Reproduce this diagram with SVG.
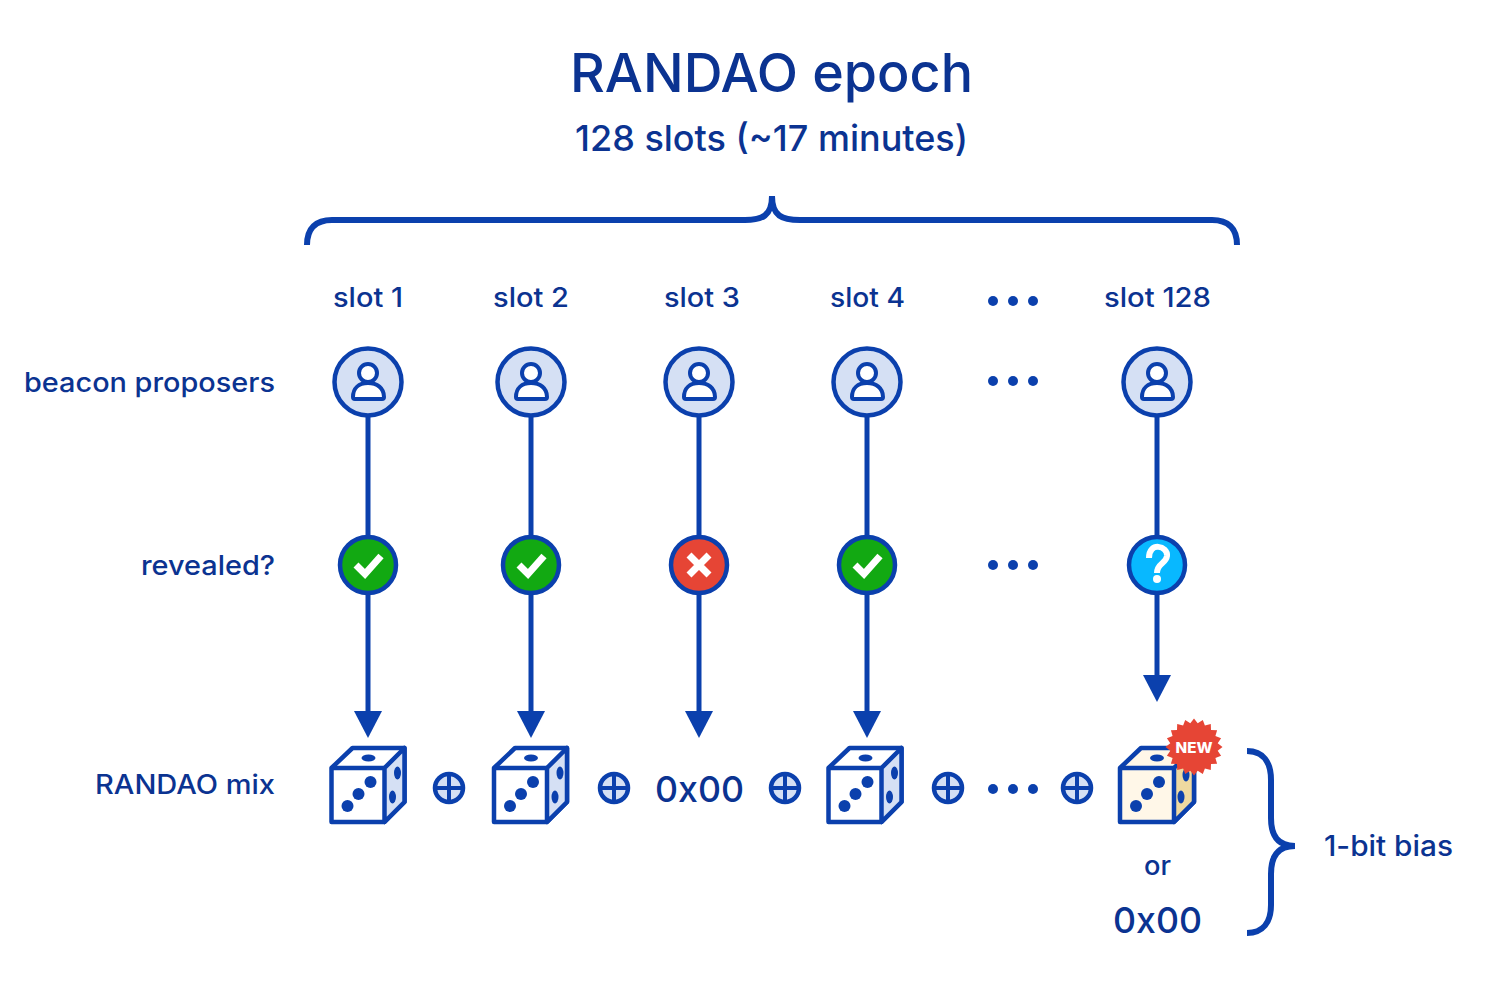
<svg xmlns="http://www.w3.org/2000/svg" width="1487" height="1008" viewBox="0 0 1487 1008">
<style>
text{font-family:"Inter","Liberation Sans",sans-serif;font-weight:550;fill:#0b3391;text-anchor:middle}
.lab{font-size:27px;text-anchor:end}
.slot{font-size:27px}
.ln{stroke:#0b40ad;fill:none;stroke-width:6}
.ring{stroke:#0b40ad;stroke-width:4.500;fill:#d5e0f4}
.person{stroke:#0b40ad;stroke-width:4;fill:#fff}
.stat{stroke:#0b40ad;stroke-width:4.500}
.pip{fill:#0b40ad}
.mark{stroke:#fff;stroke-width:7;fill:none}
.edge{stroke:#0b40ad;stroke-width:4.500;stroke-linejoin:round;fill:none}
.conn{stroke:#0b40ad;stroke-width:5;fill:none}
</style>
<defs>
<marker id="ah" markerUnits="userSpaceOnUse" markerWidth="30" markerHeight="30" refX="0" refY="15" orient="auto" viewBox="0 0 30 30"><polygon points="0,1 27,15 0,29" fill="#0b40ad"/></marker>
<g id="proposer"><circle class="ring" r="33.500"/><circle class="person" cy="-9" r="9"/><path class="person" d="M-13,17H14Q16,17 16,15C16,6 9,1 0,1C-9,1 -15,6 -15,15Q-15,17 -13,17Z"/></g>
<g id="dice"><path class="edge" style="fill:#fff" d="M-37,-20L-16,-40H36V14L16,34H-37Z"/><path class="edge" style="fill:#d5e0f4" d="M16,-20L36,-40V14L16,34Z"/><path class="edge" d="M-37,-20H16"/><ellipse class="pip" cx="0" cy="-30" rx="7" ry="3.500"/><circle class="pip" cx="-21" cy="18" r="6"/><circle class="pip" cx="-10" cy="6" r="6"/><circle class="pip" cx="2" cy="-6" r="6"/><ellipse class="pip" cx="29" cy="-15" rx="3.500" ry="6.500"/><ellipse class="pip" cx="24" cy="9" rx="3.500" ry="6.500"/></g>
<g id="xor"><circle class="ring" r="14"/><path class="conn" style="stroke-width:4" d="M0,-14V14M-14,0H14"/></g>
<g id="dots"><circle class="pip" cx="-20" r="5"/><circle class="pip" r="5"/><circle class="pip" cx="20" r="5"/></g>
</defs>
<rect width="1487" height="1008" fill="#fff"/>
<g id="title"><text x="771.500" y="92" font-size="54" textLength="403" lengthAdjust="spacingAndGlyphs">RANDAO epoch</text><text x="771.500" y="151" font-size="36" textLength="393" lengthAdjust="spacingAndGlyphs">128 slots (~17 minutes)</text></g>
<g id="connectors">
<path class="ln" d="M307,245C307,228 316,220 332,220H745C762,220 772,216 772,196C772,216 782,220 800,220H1212C1228,220 1237,228 1237,245"/>
<path class="ln" d="M1247,751C1263,751 1271,762 1271,780V818C1271,836 1278,846 1295,846C1278,846 1271,856 1271,874V905C1271,922 1263,933 1247,933"/>
<g class="conn">
<line x1="368" y1="417" x2="368" y2="537"/><line x1="368" y1="593" x2="368" y2="711" marker-end="url(#ah)"/>
<line x1="531" y1="417" x2="531" y2="537"/><line x1="531" y1="593" x2="531" y2="711" marker-end="url(#ah)"/>
<line x1="699" y1="417" x2="699" y2="537"/><line x1="699" y1="593" x2="699" y2="711" marker-end="url(#ah)"/>
<line x1="867" y1="417" x2="867" y2="537"/><line x1="867" y1="593" x2="867" y2="711" marker-end="url(#ah)"/>
<line x1="1157" y1="417" x2="1157" y2="537"/><line x1="1157" y1="593" x2="1157" y2="675" marker-end="url(#ah)"/>
</g>
</g>
<g id="labels">
<text class="lab" x="275" y="392" textLength="251" lengthAdjust="spacingAndGlyphs">beacon proposers</text>
<text class="lab" x="275" y="575" textLength="134" lengthAdjust="spacingAndGlyphs">revealed?</text>
<text class="lab" x="275" y="794" textLength="180" lengthAdjust="spacingAndGlyphs">RANDAO mix</text>
<text class="slot" x="368" y="307" textLength="70" lengthAdjust="spacingAndGlyphs">slot 1</text>
<text class="slot" x="531" y="307" textLength="76" lengthAdjust="spacingAndGlyphs">slot 2</text>
<text class="slot" x="702" y="307" textLength="76" lengthAdjust="spacingAndGlyphs">slot 3</text>
<text class="slot" x="867.500" y="307" textLength="75" lengthAdjust="spacingAndGlyphs">slot 4</text>
<text class="slot" x="1157.500" y="307" textLength="107" lengthAdjust="spacingAndGlyphs">slot 128</text>
<text x="1388.500" y="856" font-size="28" textLength="129" lengthAdjust="spacingAndGlyphs">1-bit bias</text>
</g>
<g id="proposer-1"><use href="#proposer" x="368" y="382"/></g>
<g id="proposer-2"><use href="#proposer" x="531" y="382"/></g>
<g id="proposer-3"><use href="#proposer" x="699" y="382"/></g>
<g id="proposer-4"><use href="#proposer" x="867" y="382"/></g>
<g id="proposer-128"><use href="#proposer" x="1157" y="382"/></g>
<g id="status-1"><circle class="stat" cx="368" cy="565" r="28" fill="#12a912"/><path class="mark" d="M356,565L365,574L381,556"/></g>
<g id="status-2"><circle class="stat" cx="531" cy="565" r="28" fill="#12a912"/><path class="mark" d="M519,565L528,574L544,556"/></g>
<g id="status-3"><circle class="stat" cx="699" cy="565" r="28" fill="#e64535"/><path class="mark" d="M689,555L709,575M709,555L689,575"/></g>
<g id="status-4"><circle class="stat" cx="867" cy="565" r="28" fill="#12a912"/><path class="mark" d="M855,565L864,574L880,556"/></g>
<g id="status-128"><circle class="stat" cx="1157" cy="565" r="28" fill="#08b8ff"/><path class="mark" style="stroke-width:6" d="M1149,558C1149,541 1168,546 1167,556C1166,564 1157,563 1157,573"/><circle cx="1157" cy="579" r="4" fill="#fff"/></g>
<g id="dice-1"><use href="#dice" x="368.500" y="788"/></g>
<g id="dice-2"><use href="#dice" x="531" y="788"/></g>
<g id="zero-3"><text x="699.500" y="802" font-size="36" textLength="89" lengthAdjust="spacingAndGlyphs">0x00</text></g>
<g id="dice-4"><use href="#dice" x="865.500" y="788"/></g>
<g id="dice-128">
<path class="edge" style="fill:#fff7e8" d="M1120,768L1141,748H1194V802L1174,822H1120Z"/>
<path class="edge" style="fill:#eed9a0" d="M1174,768L1194,748V802L1174,822Z"/>
<path class="edge" d="M1120,768H1174"/>
<ellipse class="pip" cx="1157" cy="758" rx="7" ry="3.500"/><circle class="pip" cx="1136" cy="806" r="6"/><circle class="pip" cx="1147" cy="794" r="6"/><circle class="pip" cx="1159" cy="782" r="6"/><ellipse class="pip" cx="1186" cy="775" rx="3.500" ry="6.500"/><ellipse class="pip" cx="1181" cy="797" rx="3.500" ry="6.500"/>
</g>
<g id="new-badge" transform="translate(1194,747)"><polygon fill="#e64535" points="28.500,0 23.700,3.700 27.100,8.800 21.400,10.900 23.100,16.800 17,17 16.800,23.100 10.900,21.400 8.800,27.100 3.700,23.700 0,28.500 -3.700,23.700 -8.800,27.100 -10.900,21.400 -16.800,23.100 -17,17 -23.100,16.800 -21.400,10.900 -27.100,8.800 -23.700,3.700 -28.500,0 -23.700,-3.700 -27.100,-8.800 -21.400,-10.900 -23.100,-16.800 -17,-17 -16.800,-23.100 -10.900,-21.400 -8.800,-27.100 -3.700,-23.700 0,-28.500 3.700,-23.700 8.800,-27.100 10.900,-21.400 16.800,-23.100 17,-17 23.100,-16.800 21.400,-10.900 27.100,-8.800 23.700,-3.700"/><text y="5.500" font-size="14" textLength="37" lengthAdjust="spacingAndGlyphs" style="fill:#fff;font-weight:800">NEW</text></g>
<g id="xor-1"><use href="#xor" x="449" y="788"/></g>
<g id="xor-2"><use href="#xor" x="614" y="788"/></g>
<g id="xor-3"><use href="#xor" x="785" y="788"/></g>
<g id="xor-4"><use href="#xor" x="948" y="788"/></g>
<g id="xor-5"><use href="#xor" x="1077" y="788"/></g>
<g id="ellipsis-slot"><use href="#dots" x="1013" y="301"/></g>
<g id="ellipsis-proposer"><use href="#dots" x="1013" y="381"/></g>
<g id="ellipsis-status"><use href="#dots" x="1013" y="565"/></g>
<g id="ellipsis-mix"><use href="#dots" x="1013" y="789"/></g>
<g id="alt"><text x="1157.500" y="875" font-size="26" textLength="27" lengthAdjust="spacingAndGlyphs">or</text><text x="1157.500" y="933" font-size="36" textLength="89" lengthAdjust="spacingAndGlyphs">0x00</text></g>
</svg>
